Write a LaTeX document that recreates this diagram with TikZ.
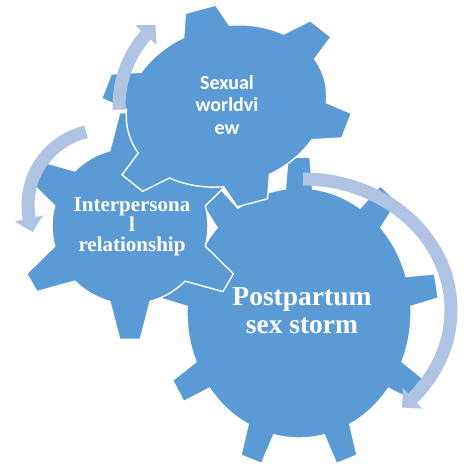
\documentclass[tikz,border=0pt]{standalone}
\usepackage{fontspec}
\newfontfamily\timesfont{Liberation Serif}
\newfontfamily\calfont{Carlito}
\usetikzlibrary{arrows.meta,bending}
\definecolor{gearblue}{HTML}{5B9BD5}
\definecolor{arrowblue}{HTML}{AFC3E3}
\tikzset{
  gearshape/.style={fill=gearblue, draw=white, line width=1.4pt, line join=miter},
  cyclearrow/.style={draw=arrowblue, line width=13pt, -{Triangle[length=14pt,width=28pt,bend]}},
  geartext/.style={text=white, align=center, inner sep=0pt},
}
% #1 teeth, #2 first tooth angle, #3 base half-angle, #4 tip half-angle, #5 tip radius
\newcommand{\mygear}[5]{%
  \pgfmathsetmacro{\gstep}{360/#1}%
  \pgfmathtruncatemacro{\glast}{#1-1}%
  \path[gearshape] ({#2-#3}:1) \foreach \k in {0,...,\glast}{
     -- ({#2+\k*\gstep-#4}:#5) -- ({#2+\k*\gstep+#4}:#5) -- ({#2+\k*\gstep+#3}:1)
     arc[start angle={#2+\k*\gstep+#3}, end angle={#2+(\k+1)*\gstep-#3}, radius=1]
  } -- cycle;
}
\begin{document}
\begin{tikzpicture}[x=1pt,y=1pt]
\useasboundingbox (0,0) rectangle (474,474);
\fill[white] (0,0) rectangle (474,474);
% big gear
\begin{scope}[shift={(299,161)}, xscale=112, yscale=125]
  \mygear{9}{90}{7}{4.5}{1.25}
\end{scope}
% left gear
\begin{scope}[shift={(130,248)}, scale=78]
  \mygear{6}{30}{15}{5.2}{1.46}
\end{scope}
% top gear
\begin{scope}[shift={(226.5,368)}, rotate=15, xscale=101.6, yscale=79.5]
  \mygear{6}{90}{13.5}{7}{1.27}
\end{scope}
% arrows
\begin{scope}[shift={(226,368)}]
  \draw[cyclearrow] (182:107) arc[start angle=182, end angle=131, radius=107];
\end{scope}
\begin{scope}[shift={(103,269)}]
  \draw[cyclearrow] (103:75) arc[start angle=103, end angle=201, radius=75];
\end{scope}
\begin{scope}[shift={(303,164)}]
  \draw[cyclearrow] (90:148 and 131) arc[start angle=90, end angle=-48, x radius=148, y radius=131];
\end{scope}
% texts
\node[geartext, font=\calfont\bfseries\fontsize{20}{22.5}\selectfont] (sw) at (227,369) {Sexual\\worldvi\\ew};
\node[geartext, font=\timesfont\bfseries\fontsize{21}{20}\selectfont] (ir) at (132,247) {Interpersona\\l\\relationship};
\node[geartext, font=\timesfont\bfseries\fontsize{27.5}{28}\selectfont] (ps) at (302,163) {Postpartum\\sex storm};
\end{tikzpicture}
\end{document}
